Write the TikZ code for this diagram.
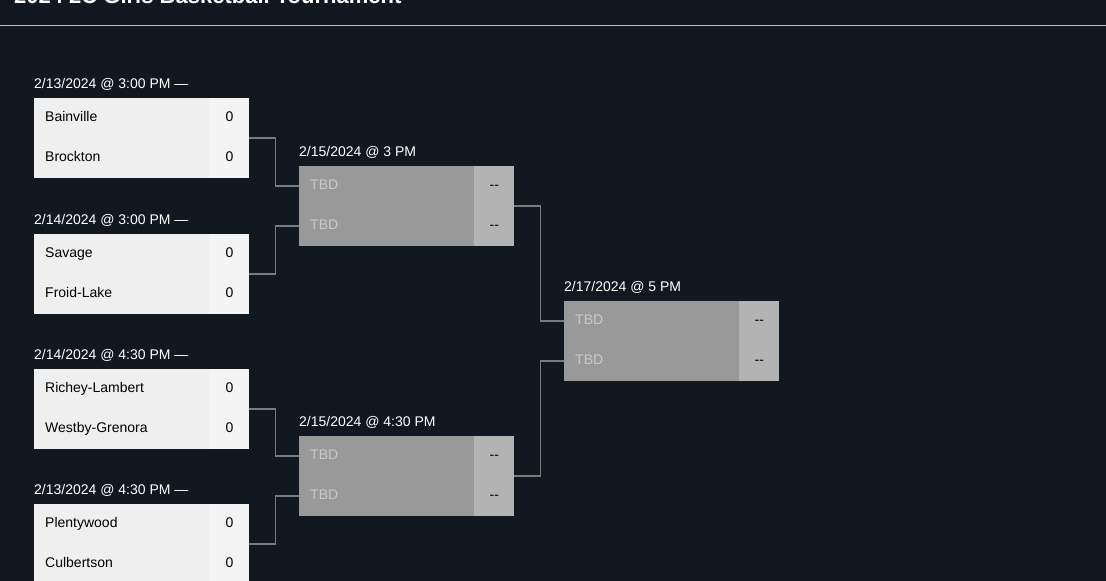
\documentclass[tikz,border=0pt]{standalone}
\usepackage{fontspec}
\setmainfont{Liberation Sans}
\usetikzlibrary{positioning}
\definecolor{bg}{HTML}{111820}
\definecolor{seedbg}{HTML}{EFEFEF}
\definecolor{seedsc}{HTML}{F4F4F4}
\definecolor{tbdbg}{HTML}{999999}
\definecolor{tbdsc}{HTML}{B3B3B3}
\definecolor{tbdtx}{HTML}{C8C8C8}
\definecolor{wire}{HTML}{7A7A7A}
\tikzset{
  gamebox/.style={rectangle, anchor=north west, minimum width=215pt, minimum height=80pt, inner sep=0pt},
  datelbl/.style={anchor=base west, inner sep=0pt, text=white, font=\fontsize{14}{16}\selectfont},
  teamlbl/.style={anchor=west, inner sep=0pt, text height=10pt, text depth=3pt, font=\fontsize{14}{16}\selectfont},
  scorelbl/.style={anchor=center, inner sep=0pt, text height=10pt, text depth=3pt, font=\fontsize{14}{16}\selectfont},
  wireline/.style={wire, line width=1.8pt}
}
% one game: name, x, y, date, team1, score1, team2, score2, box colour
\newcommand{\game}[9]{%
  \node[gamebox, fill=#9] (#1) at (#2,#3) {};
  \fill[fill=\scol] ([xshift=-40pt]#1.north east) rectangle (#1.south east);
  \node[datelbl] (#1date) at ([yshift=10pt]#1.north west) {#4};
  \node[teamlbl, text=\tcol] (#1top) at ([xshift=11pt,yshift=20pt]#1.west) {#5};
  \node[scorelbl] (#1tops) at ([xshift=-20pt,yshift=20pt]#1.east) {#6};
  \node[teamlbl, text=\tcol] (#1bot) at ([xshift=11pt,yshift=-20pt]#1.west) {#7};
  \node[scorelbl] (#1bots) at ([xshift=-20pt,yshift=-20pt]#1.east) {#8};
}
\begin{document}
\begin{tikzpicture}[x=1pt,y=-1pt]
  \useasboundingbox (0,0) rectangle (1106,581);
  \fill[bg] (0,0) rectangle (1106,581);
  % Header
  \node[anchor=base west, inner sep=0pt, text=white, font=\bfseries\fontsize{22}{24}\selectfont] (title) at (14,3) {2024 2C Girls Basketball Tournament};
  \draw[white!75!black, line width=0.8pt] (0,25) -- (1106,25);
  % First round
  \def\scol{seedsc}\def\tcol{black}
  \game{ga}{34}{98}{2/13/2024 @ 3:00 PM —}{Bainville}{0}{Brockton}{0}{seedbg}
  \game{gb}{34}{234}{2/14/2024 @ 3:00 PM —}{Savage}{0}{Froid-Lake}{0}{seedbg}
  \game{gc}{34}{369}{2/14/2024 @ 4:30 PM —}{Richey-Lambert}{0}{Westby-Grenora}{0}{seedbg}
  \game{gd}{34}{504}{2/13/2024 @ 4:30 PM —}{Plentywood}{0}{Culbertson}{0}{seedbg}
  % Later rounds
  \def\scol{tbdsc}\def\tcol{tbdtx}
  \game{semia}{299}{166}{2/15/2024 @ 3 PM}{TBD}{-{}-}{TBD}{-{}-}{tbdbg}
  \game{semib}{299}{436}{2/15/2024 @ 4:30 PM}{TBD}{-{}-}{TBD}{-{}-}{tbdbg}
  \game{final}{564}{301}{2/17/2024 @ 5 PM}{TBD}{-{}-}{TBD}{-{}-}{tbdbg}
  % Connectors
  \draw[wireline] (ga.east) -- ++(26,0) |- ([yshift=20pt]semia.west);
  \draw[wireline] (gb.east) -- ++(26,0) |- ([yshift=-20pt]semia.west);
  \draw[wireline] (gc.east) -- ++(26,0) |- ([yshift=20pt]semib.west);
  \draw[wireline] (gd.east) -- ++(26,0) |- ([yshift=-20pt]semib.west);
  \draw[wireline] (semia.east) -- ++(26,0) |- ([yshift=20pt]final.west);
  \draw[wireline] (semib.east) -- ++(26,0) |- ([yshift=-20pt]final.west);
\end{tikzpicture}
\end{document}
